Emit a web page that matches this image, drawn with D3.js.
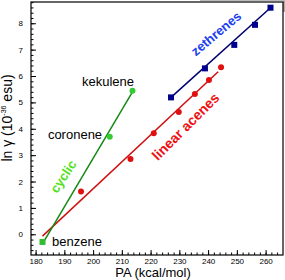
<!DOCTYPE html>
<html><head><meta charset="utf-8">
<script src="https://cdn.jsdelivr.net/npm/d3@7"></script>
<style>
body{margin:0;background:#fff;}
svg{display:block;font-family:"Liberation Sans",Arial,sans-serif;}
</style></head>
<body><svg id="c" width="285" height="280"></svg>
<script>
// ---- data ----
const cyclicNames = ["benzene","coronene","kekulene"];
const cyclicPA = [182.4, 205.8, 213.7];
const cyclicLnG = [-0.29, 3.70, 5.44];
const cyclicFitPA = [183.0, 213.7];
const cyclicFitLnG = [-0.25, 5.40];

const acenePA = [195.8, 213.0, 221.1, 229.8, 235.4, 240.3, 244.5];
const aceneLnG = [1.62, 2.85, 3.83, 4.64, 5.32, 5.85, 6.33];
const aceneFitPA = [182.4, 243.5];
const aceneFitLnG = [-0.07, 6.16];

const zethPA = [227.1, 238.9, 249.1, 256.3, 261.7];
const zethLnG = [5.19, 6.29, 7.18, 7.94, 8.59];
const zethFitPA = [227.1, 261.7];
const zethFitLnG = [5.19, 8.59];

const xTicks = [180,190,200,210,220,230,240,250,260];
const yTicks = [0,1,2,3,4,5,6,7,8];

// ---- layout ----
const L = 31, R = 283, T = 2, B = 255;
const svg = d3.select("#c");
const x = d3.scaleLinear().domain([178.4, 266.05]).range([L, R]);
const y = d3.scaleLinear().domain([-0.785, 8.806]).range([B, T]);

// gray edges (scan artifact)
svg.append("rect").attr("x",R).attr("y",0).attr("width",285-R).attr("height",12).attr("fill","#aaa");
svg.append("rect").attr("x",200).attr("y",0).attr("width",85).attr("height",1).attr("fill","#bbb");

// frame
svg.append("rect").attr("x",L).attr("y",T).attr("width",R-L).attr("height",B-T)
  .attr("fill","none").attr("stroke","#000").attr("stroke-width",1.2);

// x axis (inward ticks)
const xMinor = d3.range(180, 266, 2);
const gx = svg.append("g").attr("transform",`translate(0,${B})`);
gx.call(d3.axisBottom(x).tickValues(xMinor).tickSize(-2.5).tickFormat(""))
  .call(g=>g.select(".domain").remove());
const gx2 = svg.append("g").attr("transform",`translate(0,${B})`);
gx2.call(d3.axisBottom(x).tickValues(xTicks).tickSize(-5).tickPadding(3).tickFormat(d3.format("d")))
  .call(g=>g.select(".domain").remove());
gx2.selectAll("text").attr("font-size",8).attr("fill","#000").attr("font-family","Liberation Sans, Arial, sans-serif");

// y axis (inward ticks)
const yMinor = d3.range(-0.6, 8.81, 0.2);
const gy = svg.append("g").attr("transform",`translate(${L},0)`);
gy.call(d3.axisLeft(y).tickValues(yMinor).tickSize(-2.5).tickFormat(""))
  .call(g=>g.select(".domain").remove());
const gy2 = svg.append("g").attr("transform",`translate(${L},0)`);
gy2.call(d3.axisLeft(y).tickValues(yTicks).tickSize(-5).tickPadding(8).tickFormat(d3.format("d")))
  .call(g=>g.select(".domain").remove());
gy2.selectAll("text").attr("font-size",8).attr("fill","#000").attr("font-family","Liberation Sans, Arial, sans-serif");

// axis titles
svg.append("text").attr("x",153).attr("y",277).attr("text-anchor","middle")
  .attr("font-size",13).text("PA (kcal/mol)");
const yl = svg.append("text").attr("transform","translate(12,118) rotate(-90)")
  .attr("text-anchor","middle").attr("font-size",14);
yl.append("tspan").text("ln γ (10");
yl.append("tspan").attr("font-size",7).attr("dy",-6).text("-36");
yl.append("tspan").attr("dy",6).text(" esu)");

// fit lines
const line = d3.line().x(d=>x(d[0])).y(d=>y(d[1]));
function fit(px, py, col){
  svg.append("path").datum(d3.zip(px,py)).attr("d",line)
    .attr("fill","none").attr("stroke",col).attr("stroke-width",1.5);
}
fit(aceneFitPA, aceneFitLnG, "#d01010");
fit(cyclicFitPA, cyclicFitLnG, "#138a13");
fit(zethFitPA, zethFitLnG, "#000070");

// points
svg.append("g").selectAll("circle").data(d3.zip(acenePA,aceneLnG)).join("circle")
  .attr("cx",d=>x(d[0])).attr("cy",d=>y(d[1])).attr("r",3).attr("fill","#e01010");
const cyc = d3.zip(cyclicPA, cyclicLnG);
svg.append("g").selectAll("circle").data(cyc.slice(1)).join("circle")
  .attr("cx",d=>x(d[0])).attr("cy",d=>y(d[1])).attr("r",3).attr("fill","#33cc33");
svg.append("g").selectAll("rect").data(cyc.slice(0,1)).join("rect")
  .attr("x",d=>x(d[0])-3).attr("y",d=>y(d[1])-3).attr("width",6).attr("height",6).attr("fill","#33bb33");
svg.append("g").selectAll("rect").data(d3.zip(zethPA,zethLnG)).join("rect")
  .attr("x",d=>x(d[0])-3).attr("y",d=>y(d[1])-3).attr("width",6).attr("height",6).attr("fill","#00008c");

// labels
svg.append("text").attr("x",108).attr("y",86).attr("text-anchor","middle").attr("font-size",13).text(cyclicNames[2]);
svg.append("text").attr("x",75).attr("y",139).attr("text-anchor","middle").attr("font-size",13).text(cyclicNames[1]);
svg.append("text").attr("x",52).attr("y",246).attr("font-size",13).text(cyclicNames[0]);

svg.append("text").attr("transform","translate(67,179) rotate(-56)").attr("text-anchor","middle")
  .attr("font-size",13).attr("font-weight","bold").attr("fill","#55e020").text("cyclic");
svg.append("text").attr("transform","translate(189,130) rotate(-45)").attr("text-anchor","middle")
  .attr("font-size",14).attr("font-weight","bold").attr("fill","#ee1010").text("linear acenes");
svg.append("text").attr("transform","translate(219,37) rotate(-40)").attr("text-anchor","middle")
  .attr("font-size",13).attr("font-weight","bold").attr("fill","#2040f0").text("zethrenes");
</script></body></html>
